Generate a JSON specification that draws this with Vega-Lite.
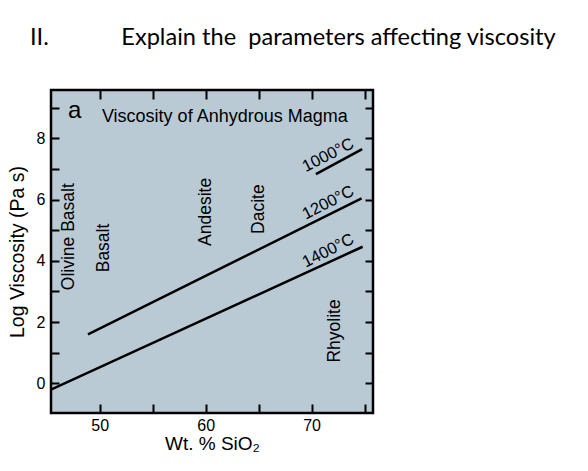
{
  "$schema": "https://vega.github.io/schema/vega-lite/v6.json",
  "width": 322,
  "height": 323,
  "autosize": {"type": "none"},
  "padding": {"left": 51, "top": 90, "right": 215, "bottom": 58},
  "background": "white",
  "config": {
    "view": {"stroke": "black", "strokeWidth": 2.5, "fill": "#b9cad5"},
    "axis": {"grid": false, "domain": false, "tickColor": "black", "tickWidth": 2, "labelColor": "black", "titleColor": "black", "labelFont": "Liberation Sans", "titleFont": "Liberation Sans", "titleFontWeight": "normal", "labelFontSize": 16}
  },
  "title": {
    "text": "II.\u00a0\u00a0\u00a0\u00a0\u00a0\u00a0\u00a0\u00a0\u00a0\u00a0\u00a0\u00a0Explain the\u00a0 parameters affecting viscosity",
    "anchor": "start",
    "frame": "group",
    "dx": -21,
    "offset": 20,
    "baseline": "alphabetic",
    "font": "Lato",
    "fontSize": 23.6,
    "fontWeight": "normal",
    "color": "black"
  },
  "datasets": {
    "lines": [
      {"t": "1000", "x": 70.41, "y": 6.83},
      {"t": "1000", "x": 74.78, "y": 7.65},
      {"t": "1200", "x": 48.89, "y": 1.60},
      {"t": "1200", "x": 74.72, "y": 6.04},
      {"t": "1400", "x": 45.44, "y": -0.20},
      {"t": "1400", "x": 74.82, "y": 4.46}
    ],
    "rocks": [
      {"label": "Olivine Basalt", "x": 47.07, "y": 4.79},
      {"label": "Basalt", "x": 50.38, "y": 4.42},
      {"label": "Andesite", "x": 60.01, "y": 5.60},
      {"label": "Dacite", "x": 65.02, "y": 5.69},
      {"label": "Rhyolite", "x": 72.20, "y": 1.71}
    ],
    "temps": [
      {"label": "1000°C", "x": 71.57, "y": 7.45},
      {"label": "1200°C", "x": 71.57, "y": 5.90},
      {"label": "1400°C", "x": 71.57, "y": 4.33}
    ],
    "heading": [
      {"label": "Viscosity of Anhydrous Magma", "x": 61.81, "y": 8.52}
    ],
    "panel": [
      {"label": "a", "x": 47.64, "y": 8.65}
    ]
  },
  "layer": [
    {
      "data": {"name": "lines"},
      "mark": {"type": "line", "color": "black", "strokeWidth": 2.5, "clip": true},
      "encoding": {
        "x": {"field": "x", "type": "quantitative", "scale": {"domain": [45.4, 75.8], "nice": false, "zero": false},
          "axis": {"orient": "bottom", "values": [50, 55, 60, 65, 70, 75], "labelExpr": "datum.value % 10 === 0 ? datum.label : ''", "tickSize": -9, "labelPadding": 13, "labelFontSize": 16, "title": "Wt. % SiO₂", "titleFontSize": 19, "titlePadding": 1}},
        "y": {"field": "y", "type": "quantitative", "scale": {"domain": [-0.97, 9.58], "nice": false, "zero": false},
          "axis": {"orient": "left", "values": [0, 1, 2, 3, 4, 5, 6, 7, 8, 9], "labelExpr": "datum.value % 2 === 0 ? datum.label : ''", "tickSize": -8, "labelPadding": 14, "labelFontSize": 16, "title": "Log Viscosity (Pa s)", "titleFontSize": 19.5, "titlePadding": 9}},
        "detail": {"field": "t"}
      }
    },
    {
      "data": {"name": "rocks"},
      "mark": {"type": "text", "angle": 270, "align": "center", "baseline": "middle", "font": "Liberation Sans", "fontSize": 17.5, "color": "black"},
      "encoding": {
        "x": {"field": "x", "type": "quantitative", "axis": {"orient": "top", "values": [50, 55, 60, 65, 70, 75], "labels": false, "tickSize": -9, "title": null}},
        "y": {"field": "y", "type": "quantitative", "axis": {"orient": "right", "values": [0, 1, 2, 3, 4, 5, 6, 7, 8, 9], "labels": false, "tickSize": -8, "title": null}},
        "text": {"field": "label"}
      }
    },
    {
      "data": {"name": "temps"},
      "mark": {"type": "text", "angle": -27, "align": "center", "baseline": "middle", "font": "Liberation Sans", "fontSize": 16.5, "color": "black"},
      "encoding": {
        "x": {"field": "x", "type": "quantitative", "axis": null},
        "y": {"field": "y", "type": "quantitative", "axis": null},
        "text": {"field": "label"}
      }
    },
    {
      "data": {"name": "heading"},
      "mark": {"type": "text", "align": "center", "baseline": "alphabetic", "font": "Liberation Sans", "fontSize": 18, "color": "black"},
      "encoding": {
        "x": {"field": "x", "type": "quantitative", "axis": null},
        "y": {"field": "y", "type": "quantitative", "axis": null},
        "text": {"field": "label"}
      }
    },
    {
      "data": {"name": "panel"},
      "mark": {"type": "text", "align": "center", "baseline": "alphabetic", "font": "Liberation Sans", "fontSize": 24, "color": "black"},
      "encoding": {
        "x": {"field": "x", "type": "quantitative", "axis": null},
        "y": {"field": "y", "type": "quantitative", "axis": null},
        "text": {"field": "label"}
      }
    }
  ],
  "resolve": {"axis": {"x": "independent", "y": "independent"}}
}
